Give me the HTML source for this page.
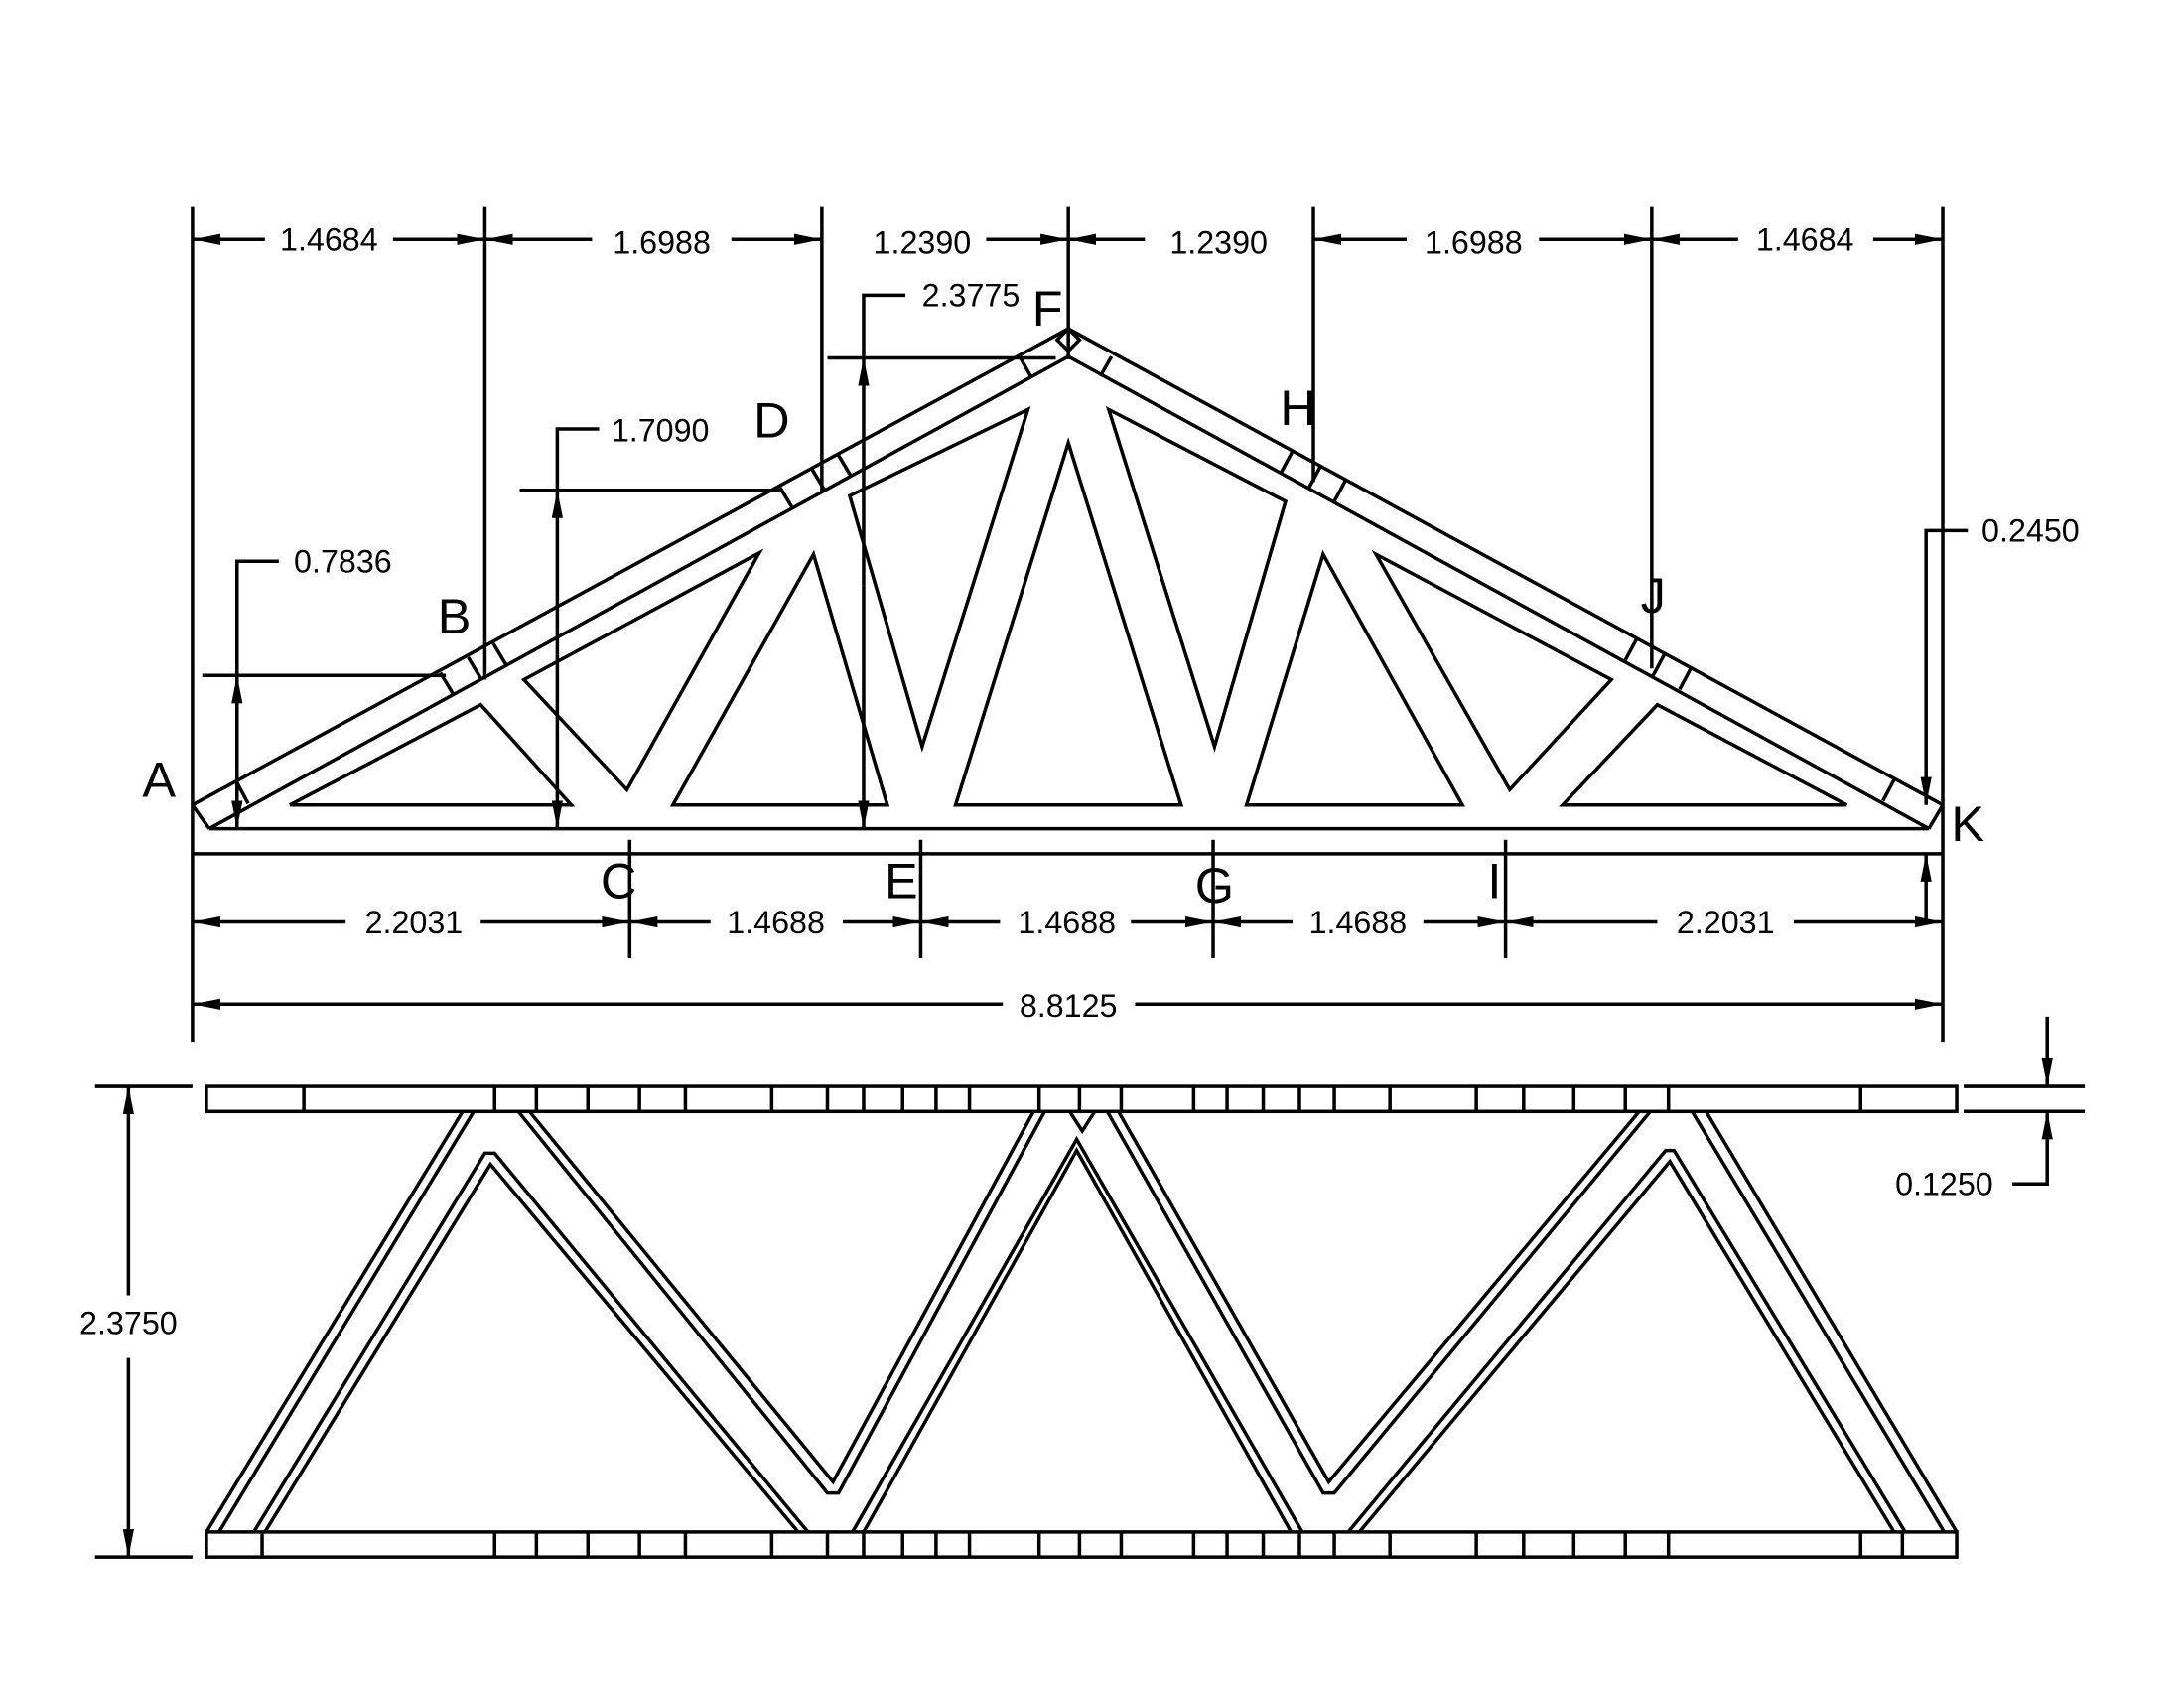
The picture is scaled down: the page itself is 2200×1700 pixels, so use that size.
<!DOCTYPE html>
<html><head><meta charset="utf-8"><style>
html,body{margin:0;padding:0;background:#fff}
svg{display:block}
text{font-family:"Liberation Sans",Arial,sans-serif;fill:#000}
</style></head><body>
<svg width="2200" height="1700" viewBox="0 0 1568 1212" xmlns="http://www.w3.org/2000/svg">
<defs>
<marker id="ar" viewBox="0 0 20 8" refX="20" refY="4" markerWidth="20" markerHeight="8" markerUnits="userSpaceOnUse" orient="auto-start-reverse"><path d="M0,0 L20,4 L0,8 z" fill="#000"/></marker>
</defs>
<g stroke="#000" stroke-width="2.5" fill="none">
<polyline points="138,578 767,236 1395,578"/>
<polyline points="150,595 767,256 1385,595"/>
<line x1="138" y1="578" x2="150" y2="595"/>
<line x1="1395" y1="578" x2="1385" y2="595"/>
<line x1="150" y1="595" x2="1385" y2="595"/>
<polygon points="759,244 767,236 775,244 767,252"/>
<line x1="316" y1="483" x2="325" y2="498"/><line x1="336" y1="472" x2="345" y2="487"/><line x1="354" y1="462" x2="363" y2="477"/>
<line x1="560" y1="350" x2="569" y2="365"/><line x1="583" y1="337" x2="592" y2="352"/><line x1="602" y1="327" x2="611" y2="342"/>
<line x1="732" y1="256" x2="740" y2="270"/><line x1="798" y1="256" x2="790" y2="270"/>
<line x1="928" y1="324" x2="920" y2="339"/><line x1="948" y1="335" x2="940" y2="350"/><line x1="966" y1="345" x2="958" y2="360"/>
<line x1="1175" y1="459" x2="1167" y2="474"/><line x1="1195" y1="470" x2="1187" y2="485"/><line x1="1214" y1="480" x2="1206" y2="495"/>
<line x1="1360" y1="560" x2="1352" y2="575"/>
<line x1="170" y1="562" x2="178" y2="577"/>
<polygon points="208,578 345,506 410,578"/>
<polygon points="376,488 545,397 450,567"/>
<polygon points="483,578 584,398 637,578"/>
<polygon points="610,356 738,294 662,536"/>
<polygon points="686,578 767,318 848,578"/>
<polygon points="796,294 923,360 872,536"/>
<polygon points="895,578 950,398 1050,578"/>
<polygon points="988,398 1157,488 1084,567"/>
<polygon points="1122,578 1190,506 1326,578"/>
<line x1="138" y1="148" x2="138" y2="748"/>
<line x1="1395" y1="148" x2="1395" y2="748"/>
<line x1="348" y1="148" x2="348" y2="488"/>
<line x1="590" y1="148" x2="590" y2="354"/>
<line x1="767" y1="148" x2="767" y2="258"/>
<line x1="943" y1="148" x2="943" y2="346"/>
<line x1="1186" y1="148" x2="1186" y2="480"/>
<line x1="138" y1="613" x2="1395" y2="613"/>
<line x1="145" y1="485" x2="320" y2="485"/>
<line x1="373" y1="352" x2="560" y2="352"/>
<line x1="594" y1="257" x2="758" y2="257"/>
<line x1="452" y1="603" x2="452" y2="688"/>
<line x1="661" y1="603" x2="661" y2="688"/>
<line x1="871" y1="603" x2="871" y2="688"/>
<line x1="1081" y1="603" x2="1081" y2="688"/>
</g>
<g stroke="#000" stroke-width="2.5" fill="none">
<line x1="138" y1="172" x2="190" y2="172" marker-start="url(#ar)"/><line x1="282" y1="172" x2="348" y2="172" marker-end="url(#ar)"/>
<line x1="348" y1="172" x2="425" y2="172" marker-start="url(#ar)"/><line x1="525" y1="172" x2="590" y2="172" marker-end="url(#ar)"/>
<line x1="708" y1="172" x2="767" y2="172" marker-end="url(#ar)"/>
<line x1="767" y1="172" x2="822" y2="172" marker-start="url(#ar)"/>
<line x1="943" y1="172" x2="1010" y2="172" marker-start="url(#ar)"/><line x1="1105" y1="172" x2="1186" y2="172" marker-end="url(#ar)"/>
<line x1="1186" y1="172" x2="1248" y2="172" marker-start="url(#ar)"/><line x1="1345" y1="172" x2="1395" y2="172" marker-end="url(#ar)"/>
<line x1="138" y1="662" x2="248" y2="662" marker-start="url(#ar)"/><line x1="345" y1="662" x2="452" y2="662" marker-end="url(#ar)"/>
<line x1="452" y1="662" x2="510" y2="662" marker-start="url(#ar)"/><line x1="605" y1="662" x2="661" y2="662" marker-end="url(#ar)"/>
<line x1="661" y1="662" x2="718" y2="662" marker-start="url(#ar)"/><line x1="812" y1="662" x2="871" y2="662" marker-end="url(#ar)"/>
<line x1="871" y1="662" x2="928" y2="662" marker-start="url(#ar)"/><line x1="1022" y1="662" x2="1081" y2="662" marker-end="url(#ar)"/>
<line x1="1081" y1="662" x2="1190" y2="662" marker-start="url(#ar)"/><line x1="1288" y1="662" x2="1395" y2="662" marker-end="url(#ar)"/>
<line x1="138" y1="721" x2="720" y2="721" marker-start="url(#ar)"/><line x1="815" y1="721" x2="1395" y2="721" marker-end="url(#ar)"/>
<polyline points="200,403 170,403 170,485"/>
<line x1="170" y1="560" x2="170" y2="485" marker-end="url(#ar)"/>
<line x1="170" y1="560" x2="170" y2="595" marker-end="url(#ar)"/>
<polyline points="430,308 400,308 400,352"/>
<line x1="400" y1="470" x2="400" y2="352" marker-end="url(#ar)"/>
<line x1="400" y1="470" x2="400" y2="595" marker-end="url(#ar)"/>
<polyline points="650,212 620,212 620,257"/>
<line x1="620" y1="420" x2="620" y2="257" marker-end="url(#ar)"/>
<line x1="620" y1="420" x2="620" y2="595" marker-end="url(#ar)"/>
<polyline points="1413,381 1383,381 1383,578" marker-end="url(#ar)"/>
<line x1="1383" y1="662" x2="1383" y2="613" marker-end="url(#ar)"/>
</g>
<g font-size="23" text-anchor="middle">
<text x="236" y="180">1.4684</text><text x="475" y="182">1.6988</text><text x="662" y="182">1.2390</text><text x="875" y="182">1.2390</text>
<text x="1058" y="182">1.6988</text><text x="1296" y="180">1.4684</text>
<text x="297" y="670">2.2031</text><text x="557" y="670">1.4688</text><text x="766" y="670">1.4688</text><text x="975" y="670">1.4688</text><text x="1239" y="670">2.2031</text>
<text x="767" y="730">8.8125</text>
<text x="246" y="411">0.7836</text><text x="474" y="317">1.7090</text><text x="697" y="220">2.3775</text><text x="1458" y="389">0.2450</text>
<text x="1396" y="858">0.1250</text><text x="92" y="958">2.3750</text>
</g>
<g font-size="36" text-anchor="middle">
<text x="114" y="572">A</text><text x="326" y="455">B</text><text x="444" y="645">C</text><text x="554" y="314">D</text><text x="647" y="645">E</text>
<text x="752" y="234">F</text><text x="872" y="648">G</text><text x="932" y="305">H</text><text x="1073" y="645">I</text><text x="1187" y="440">J</text><text x="1413" y="604">K</text>
</g>
<g stroke="#000" stroke-width="2.5" fill="none">
<rect x="148" y="780" width="1257" height="18"/>
<rect x="148" y="1100" width="1257" height="18"/>
<path d="M218,780V798 M355,780V798 M385,780V798 M422,780V798 M459,780V798 M492,780V798 M554,780V798 M594,780V798 M620,780V798 M648,780V798 M672,780V798 M696,780V798 M746,780V798 M775,780V798 M805,780V798 M857,780V798 M881,780V798 M907,780V798 M933,780V798 M958,780V798 M998,780V798 M1060,780V798 M1094,780V798 M1130,780V798 M1167,780V798 M1198,780V798 M1336,780V798"/>
<path d="M188,1100V1118 M355,1100V1118 M385,1100V1118 M422,1100V1118 M459,1100V1118 M492,1100V1118 M554,1100V1118 M594,1100V1118 M620,1100V1118 M648,1100V1118 M672,1100V1118 M696,1100V1118 M746,1100V1118 M775,1100V1118 M805,1100V1118 M857,1100V1118 M881,1100V1118 M907,1100V1118 M933,1100V1118 M958,1100V1118 M998,1100V1118 M1060,1100V1118 M1094,1100V1118 M1130,1100V1118 M1167,1100V1118 M1198,1100V1118 M1336,1100V1118 M1366,1100V1118"/>
<polyline points="148,1100 332,798"/><polyline points="157,1100 340,798"/>
<polyline points="182,1100 348,828 355,828 580,1100"/><polyline points="190,1100 352,836 573,1100"/>
<polyline points="372,798 594,1072 602,1072 750,798"/><polyline points="380,798 598,1064 742,798"/>
<polyline points="612,1100 773,818 935,1100"/><polyline points="620,1100 773,826 927,1100"/>
<polyline points="768,798 777,812 786,798"/>
<polyline points="795,798 950,1072 958,1072 1185,798"/><polyline points="803,798 954,1064 1177,798"/>
<polyline points="968,1100 1196,826 1202,826 1368,1100"/><polyline points="976,1100 1199,834 1360,1100"/>
<polyline points="1215,798 1396,1100"/><polyline points="1225,798 1405,1100"/>
<line x1="68" y1="780" x2="138" y2="780"/><line x1="68" y1="1118" x2="138" y2="1118"/>
<line x1="92" y1="930" x2="92" y2="780" marker-end="url(#ar)"/>
<line x1="92" y1="975" x2="92" y2="1118" marker-end="url(#ar)"/>
<line x1="1410" y1="780" x2="1497" y2="780"/><line x1="1410" y1="798" x2="1497" y2="798"/>
<line x1="1470" y1="730" x2="1470" y2="780" marker-end="url(#ar)"/>
<polyline points="1445,850 1470,850 1470,798" marker-end="url(#ar)"/>
</g>
</svg>
</body></html>
